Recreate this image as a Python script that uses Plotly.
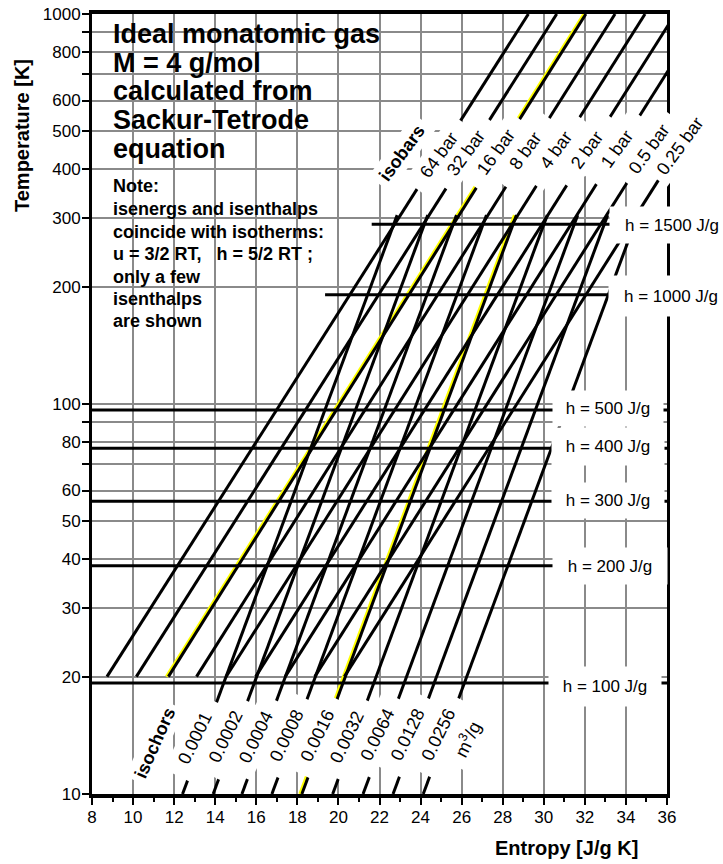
import plotly.graph_objects as go

# ---------------- data ----------------
# isobars: entropy [J/g K] at T = 20 K and at T = 1000 K (straight lines on log-T axis)
isobar_names = ["64 bar", "32 bar", "16 bar", "8 bar", "4 bar", "2 bar", "1 bar", "0.5 bar", "0.25 bar"]
isobar_T = [20, 1000]
isobar_s_lo = [8.73, 10.16, 11.72, 13.09, 14.53, 15.97, 17.41, 18.85, 20.29]
isobar_s_hi = [29.25, 30.63, 32.05, 33.47, 34.93, 36.40, 37.80, 39.25, 40.70]

# isochors: entropy at T = 10 K and at their upper end T = 305 K
isochor_names = ["0.0001", "0.0002", "0.0004", "0.0008", "0.0016", "0.0032", "0.0064", "0.0128", "0.0256"]
isochor_T = [10, 305]
isochor_s_lo = [12.41, 13.90, 15.30, 16.76, 18.22, 19.72, 21.20, 22.66, 24.13]
isochor_s_hi = [22.86, 24.35, 25.75, 27.21, 28.67, 30.17, 31.65, 33.11, 34.58]

# isenthalps (horizontal lines)
isenthalp_h = [100, 200, 300, 400, 500, 1000, 1500]
isenthalp_T = [19.25, 38.5, 56.3, 77.0, 96.5, 190.5, 289.0]
isenthalp_s_lo = [8, 8, 8, 8, 8, 19.35, 21.62]
isenthalp_s_hi = [36, 36, 36, 36, 36, 36, 36]

# axis ticks
x_ticks = [8, 10, 12, 14, 16, 18, 20, 22, 24, 26, 28, 30, 32, 34, 36]
y_ticks = [10, 20, 30, 40, 50, 60, 70, 80, 90, 100, 200, 300, 400, 500, 600, 700, 800, 900, 1000]
y_ticktext = ["10", "20", "30", "40", "50", "60", "", "80", "", "100", "200", "300", "400",
              "500", "600", "", "800", "", "1000"]

title_lines = ["Ideal monatomic gas", "M = 4 g/mol", "calculated from", "Sackur-Tetrode", "equation"]
note_lines = ["Note:", "isenergs and isenthalps", "coincide with isotherms:",
              "u = 3/2 RT,\u00a0\u00a0 h = 5/2 RT ;", "only a few", "isenthalps", "are shown"]

# ---------------- styles / layout helpers ----------------
FONT = "Liberation Sans, Arial, sans-serif"
W, H = 723, 864
L, R, T, B = 92, 56, 14, 70
PW, PH = W - L - R, H - T - B
BLACK_W = 3
YELLOW_SHIFT = -0.1
yellow_isobar = [2]
yellow_isochor = [4]


def pxx(X):
    return (X - L) / PW


def pxy(Y):
    return (H - B - Y) / PH


fig = go.Figure()


def line(xs, ys, color, width):
    fig.add_trace(go.Scatter(x=xs, y=ys, mode="lines", line=dict(color=color, width=width),
                             hoverinfo="skip", showlegend=False))


# yellow under-lines
for i in yellow_isobar:
    line([isobar_s_lo[i] + YELLOW_SHIFT, isobar_s_hi[i] + YELLOW_SHIFT], isobar_T, "#ffff00", 3)
for i in yellow_isochor:
    line([isochor_s_lo[i] + YELLOW_SHIFT, isochor_s_hi[i] + YELLOW_SHIFT], isochor_T, "#ffff00", 3)

for lo, hi in zip(isobar_s_lo, isobar_s_hi):
    line([lo, hi], isobar_T, "black", BLACK_W)
for lo, hi in zip(isochor_s_lo, isochor_s_hi):
    line([lo, hi], isochor_T, "black", BLACK_W)
for t, lo, hi in zip(isenthalp_T, isenthalp_s_lo, isenthalp_s_hi):
    line([lo, hi], [t, t], "black", BLACK_W)

# white masks that hide the grid behind the text block (between grid and traces)
masks = [(92, 413, 14, 93), (92, 360, 93, 272), (92, 247, 272, 365),
         (247, 255.5, 280, 292), (259, 272, 280, 292)]
shapes = []
for x0, x1, y0, y1 in masks:
    shapes.append(dict(type="rect", xref="paper", yref="paper", x0=pxx(x0), x1=pxx(x1),
                       y0=pxy(y1), y1=pxy(y0), fillcolor="white", line=dict(width=0),
                       layer="between"))

ann = []


def add_text(text, X, Y, size, xanchor="center", **kw):
    d = dict(text=text, xref="paper", yref="paper", x=pxx(X), y=pxy(Y), xanchor=xanchor,
             yanchor="middle", showarrow=False, font=dict(size=size, family=FONT, color="black"))
    d.update(kw)
    ann.append(d)


# title and note
for txt, yc in zip(title_lines, [34, 62.5, 91.5, 120.5, 149]):
    add_text("<b>%s</b>" % txt, 111, yc, 27, xanchor="left")
for txt, yc in zip(note_lines, [185.5, 209, 231.5, 254, 276.5, 298.5, 321]):
    add_text("<b>%s</b>" % txt, 111, yc, 18, xanchor="left")

# isobar labels
isobar_lab_pos = [(439, 155), (466, 153), (496, 152), (525, 150.5), (556, 150), (587, 150),
                  (617, 149), (649, 149), (680, 146)]
add_text("<b>isobars</b>", 402, 153, 18, textangle=-54, bgcolor="white", width=74, height=24)
for name, (X, Y) in zip(isobar_names, isobar_lab_pos):
    add_text(name, X, Y, 18, textangle=-54, bgcolor="white", width=78, height=24)

# isochor labels
isochor_lab_pos = [(195, 741), (225.5, 740), (256, 740), (286.5, 739), (317, 738.5),
                   (347, 740), (377, 737.5), (407.5, 738), (438, 737.5)]
add_text("<b>isochors</b>", 155, 743, 18, textangle=-66, bgcolor="white", width=82, height=24)
for name, (X, Y) in zip(isochor_names, isochor_lab_pos):
    add_text(name, X, Y - 3, 18, textangle=-64, bgcolor="white", width=80, height=26)
add_text("m<sup>3</sup>/g", 467, 739, 18, textangle=-64, bgcolor="white", width=56, height=26)

# isenthalp labels
h_lab = [(605, 686.5, 110, 37), (610, 566.5, 112, 34), (608, 500, 110, 33), (608, 446.5, 110, 35),
         (608, 408, 108, 33), (671, 296, 122, 38), (672, 225, 122, 34)]
for h, (X, Y, w, hh) in zip(isenthalp_h, h_lab):
    add_text("h = %d J/g" % h, X, Y, 17, bgcolor="white", width=w, height=hh)

# axis titles
add_text("<b>Temperature [K]</b>", 22, 136, 20, textangle=-90)
add_text("<b>Entropy [J/g K]</b>", 566.5, 848, 20)

fig.update_layout(width=W, height=H, margin=dict(l=L, r=R, t=T, b=B, autoexpand=False),
                  plot_bgcolor="white", paper_bgcolor="white", showlegend=False,
                  font=dict(family=FONT, color="black"), shapes=shapes, annotations=ann)

fig.update_xaxes(range=[8, 36], tickmode="array", tickvals=x_ticks, ticks="outside", ticklen=7,
                 tickwidth=2, tickcolor="black", showline=True, linecolor="black", linewidth=4,
                 mirror=True, showgrid=True, gridcolor="#8a8a8a", gridwidth=2, zeroline=False,
                 automargin=False,
                 tickfont=dict(size=17, family=FONT, color="black"), ticklabelstandoff=-2,
                 minor=dict(ticks="outside", ticklen=4, tickwidth=2, tickcolor="black",
                            dtick=1, tick0=8, showgrid=False))
fig.update_yaxes(type="log", range=[1, 3], tickmode="array", tickvals=y_ticks, ticktext=y_ticktext,
                 ticks="outside", ticklen=7, tickwidth=2, tickcolor="black", showline=True,
                 linecolor="black", linewidth=3, mirror=True, showgrid=True, gridcolor="#8a8a8a",
                 gridwidth=2, zeroline=False, automargin=False,
                 tickfont=dict(size=17, family=FONT, color="black"), ticklabelstandoff=-2)

fig.write_html("out.html")
